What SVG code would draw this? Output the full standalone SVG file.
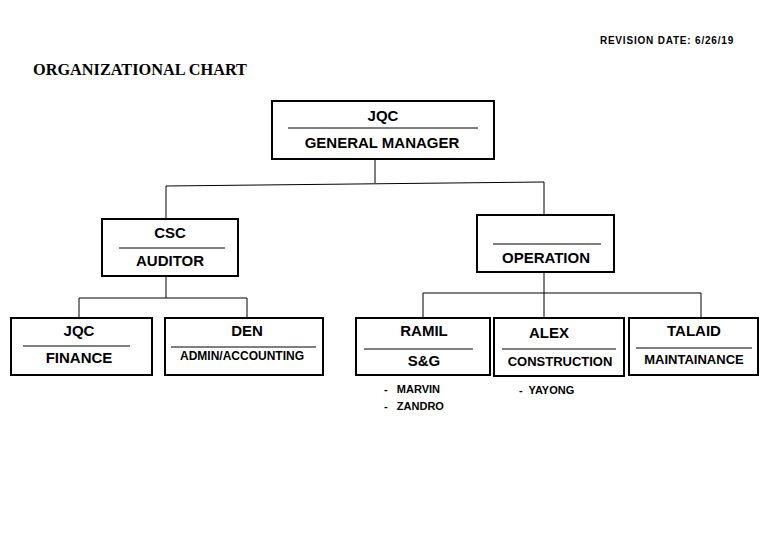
<svg xmlns="http://www.w3.org/2000/svg" width="768" height="543" viewBox="0 0 768 543">
<style>
.b{fill:#fff;stroke:#000;stroke-width:2}
.d{stroke:#000;stroke-width:1}
.t{font-family:"Liberation Sans",Arial,sans-serif;font-weight:bold;text-anchor:middle;fill:#000}
.s{font-family:"Liberation Sans",Arial,sans-serif;font-weight:bold;font-size:11px;fill:#000;white-space:pre}
.c{stroke:#000;stroke-width:1;fill:none}
</style>
<rect width="768" height="543" fill="#fff"/>
<text x="734" y="44" font-family="Liberation Sans,sans-serif" font-weight="bold" font-size="10" text-anchor="end" letter-spacing="0.8">REVISION DATE: 6/26/19</text>
<text x="33" y="75" font-family="Liberation Serif,serif" font-weight="bold" font-size="16.3">ORGANIZATIONAL CHART</text>
<g id="connectors">
<path class="c" d="M375 160V183M166 186V219M166 186L544 182M544 182V215"/>
<path class="c" d="M166 276V298M79 298H247M79 298V318M247 298V318"/>
<path class="c" d="M544 272V318M423 293H701M423 293V319M701 293V319"/>
</g>
<g id="gm"><rect class="b" x="272" y="101" width="222" height="58"/><line class="d" x1="288" y1="128" x2="478" y2="128"/><text class="t" x="383" y="121" font-size="15">JQC</text><text class="t" x="382" y="148" font-size="15">GENERAL MANAGER</text></g>
<g id="auditor"><rect class="b" x="102" y="219" width="136" height="57"/><line class="d" x1="119" y1="248" x2="225" y2="248"/><text class="t" x="170" y="238" font-size="15">CSC</text><text class="t" x="170" y="266" font-size="15">AUDITOR</text></g>
<g id="operation"><rect class="b" x="477" y="215" width="137" height="57"/><line class="d" x1="493" y1="244" x2="601" y2="244"/><text class="t" x="546" y="263" font-size="15">OPERATION</text></g>
<g id="finance"><rect class="b" x="11" y="318" width="141" height="57"/><line class="d" x1="23" y1="346" x2="130" y2="346"/><text class="t" x="79" y="336" font-size="15">JQC</text><text class="t" x="79" y="363" font-size="15">FINANCE</text></g>
<g id="admin"><rect class="b" x="165" y="318" width="158" height="57"/><line class="d" x1="171" y1="347" x2="316" y2="347"/><text class="t" x="247" y="336" font-size="15">DEN</text><text class="t" x="242" y="360" font-size="12">ADMIN/ACCOUNTING</text></g>
<g id="ramil"><rect class="b" x="356" y="318" width="134" height="57"/><line class="d" x1="364" y1="349" x2="473" y2="349"/><text class="t" x="424" y="336" font-size="15">RAMIL</text><text class="t" x="424" y="366" font-size="15">S&amp;G</text>
<text class="s" x="384" y="393">-   MARVIN</text><text class="s" x="384" y="410">-   ZANDRO</text></g>
<g id="alex"><rect class="b" x="494" y="318" width="130" height="58"/><line class="d" x1="502" y1="349" x2="616" y2="349"/><text class="t" x="549" y="338" font-size="15">ALEX</text><text class="t" x="560" y="366" font-size="13">CONSTRUCTION</text>
<text class="s" x="519" y="394">-  YAYONG</text></g>
<g id="talaid"><rect class="b" x="629" y="318" width="129" height="57"/><line class="d" x1="636" y1="348" x2="752" y2="348"/><text class="t" x="694" y="336" font-size="15">TALAID</text><text class="t" x="694" y="364" font-size="13">MAINTAINANCE</text></g>
</svg>
